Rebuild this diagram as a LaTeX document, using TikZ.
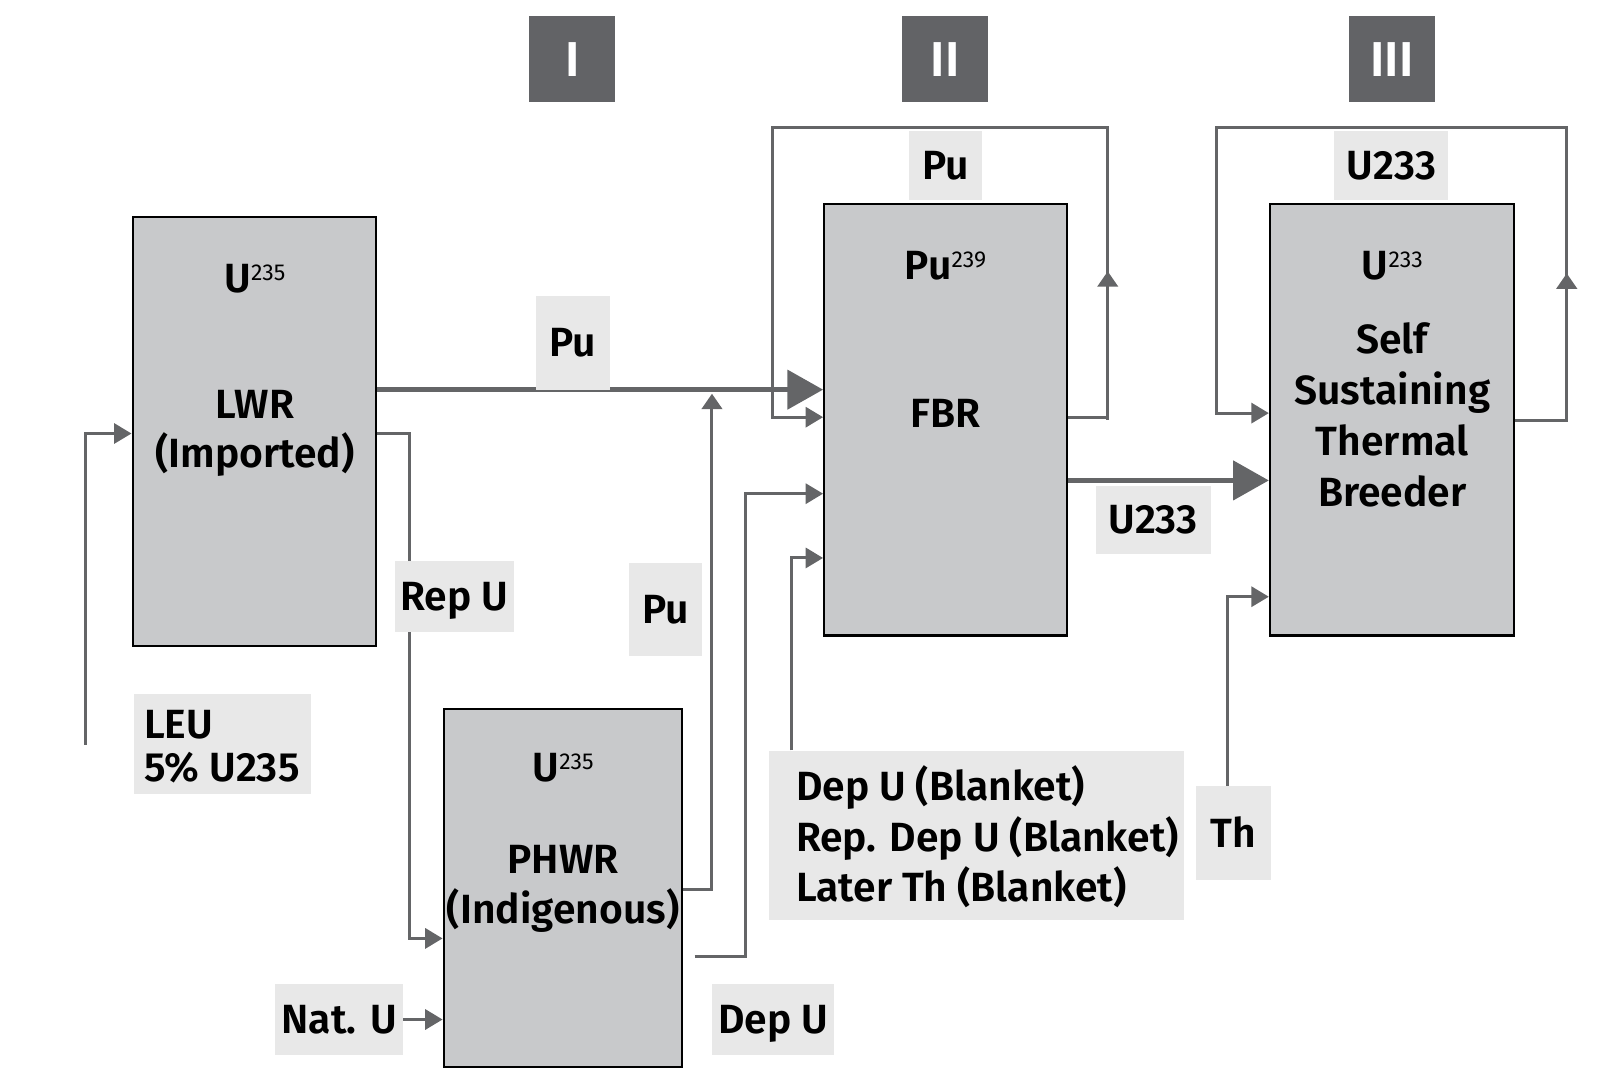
\documentclass[tikz,border=0pt]{standalone}
\usepackage{fontspec}
\setmainfont{Fira Sans}[BoldFont={Fira Sans SemiBold}]
\usetikzlibrary{fit,arrows.meta}
\definecolor{boxfill}{HTML}{C8C9CB}
\definecolor{labfill}{HTML}{E8E8E8}
\definecolor{wirec}{HTML}{646567}
\definecolor{hdrc}{HTML}{626366}
\newcommand\supnum[1]{\raisebox{6pt}{\fontsize{11.5}{11.5}\selectfont\mdseries #1}}
\pgfdeclarelayer{bg}
\pgfsetlayers{bg,main}
\tikzset{
  txt/.style={inner sep=0pt, font=\fontsize{20.4}{24}\selectfont\bfseries, text height=14pt, text depth=0pt},
  reactor/.style={draw=black, line width=1.1pt, fill=boxfill, inner sep=0pt},
  labbg/.style={fill=labfill, inner sep=0pt},
  lab/.style={txt, fill=labfill},
  hdr/.style={fill=hdrc, inner sep=0pt, text=white, font=\fontsize{24.5}{24}\selectfont\bfseries, text height=16.9pt, text depth=0pt, minimum width=42.8pt, minimum height=42.8pt},
  wire/.style={draw=wirec, line width=1.5pt},
  thickwire/.style={draw=wirec, line width=2.4pt},
  sarr/.style={-{Triangle[length=8.7pt,width=10pt]}},
  uarr/.style={-{Triangle[length=7.7pt,width=10.2pt]}},
  barr/.style={-{Triangle[length=17.8pt,width=19.4pt]}},
}
\begin{document}
\begin{tikzpicture}[x=0.51pt,y=-0.51pt]
\useasboundingbox (0,0) rectangle (1568.6,1060.8);

% stage headers
\node[hdr] (h1) at (561,58) {I};
\node[hdr] (h2) at (926.5,58) {II};
\node[hdr] (h3) at (1364.5,58) {III};

% reactor boxes
\node[reactor, fit={(130,213) (369,633)}] (lwr) {};
\node[reactor, fit={(435,695) (669,1046)}] (phwr) {};
\node[reactor, fit={(808,200) (1046,623)}] (fbr) {};
\node[reactor, fit={(1245,200) (1484,623)}] (tb) {};

% reactor texts
\node[txt] (lwrU) at (250,273) {U\supnum{235}};
\node[txt] (lwrN) at (250,397) {LWR};
\node[txt] (lwrI) at (250,445) {(Imported)};
\node[txt] (phwrU) at (552,752) {U\supnum{235}};
\node[txt] (phwrN) at (552,843) {PHWR};
\node[txt] (phwrI) at (552,892) {(Indigenous)};
\node[txt] (fbrP) at (927,260) {Pu\supnum{239}};
\node[txt] (fbrN) at (927,405) {FBR};
\node[txt] (tbU) at (1365,260) {U\supnum{233}};
\node[txt] (tb1) at (1365,333) {Self};
\node[txt] (tb2) at (1365,383) {Sustaining};
\node[txt] (tb3) at (1365,433) {Thermal};
\node[txt] (tb4) at (1365,483) {Breeder};

% labels
\node[lab, minimum width=37.2pt, minimum height=46.9pt] (puMid) at (561.5,336) {Pu};
\node[lab, minimum width=59.7pt, minimum height=35.7pt] (repU) at (445.5,585) {Rep U};
\node[lab, minimum width=36.2pt, minimum height=46.4pt] (puLow) at (652.5,597.5) {Pu};
\node[labbg, fit={(131,680) (305,778)}] (leubg) {};
\node[txt, anchor=west] (leu1) at (141,710) {LEU};
\node[txt, anchor=west] (leu2) at (141,752) {5\% U235};
\node[lab, minimum width=63.8pt, minimum height=35.2pt] (natU) at (332.5,999.5) {Nat. U};
\node[lab, minimum width=61.2pt, minimum height=35.2pt] (depU) at (758,999.5) {Dep U};
\node[labbg, fit={(754,736) (1161,902)}] (blkbg) {};
\node[txt, anchor=west] (blk1) at (780,771) {Dep U (Blanket)};
\node[txt, anchor=west] (blk2) at (780,821) {Rep. Dep U (Blanket)};
\node[txt, anchor=west] (blk3) at (780,870) {Later Th (Blanket)};
\node[lab, minimum width=37.7pt, minimum height=46.9pt] (th) at (1209,817) {Th};
\node[lab, minimum width=36.7pt, minimum height=34.7pt] (puTop) at (927,162) {Pu};
\node[lab, minimum width=57.1pt, minimum height=34.7pt] (uTop) at (1364,162) {U233};
\node[lab, minimum width=57.6pt, minimum height=34.2pt] (uMid) at (1130.5,509.5) {U233};

% helper coordinates
\coordinate (leuEnd) at (84,730);
\coordinate (ru) at (401,700);
\coordinate (pp) at (698,386);
\coordinate (du0) at (681,938);
\coordinate (du1) at (731,700);
\coordinate (bl) at (776,0);
\coordinate (fl1) at (1086,125);
\coordinate (fl2) at (757,200);
\coordinate (fup) at (1086,266);
\coordinate (tl1) at (1536,125);
\coordinate (tl2) at (1193,200);
\coordinate (tup) at (1536,268);
\coordinate (tv) at (1203,0);

\begin{pgfonlayer}{bg}
\draw[wire, sarr] (leuEnd) |- (lwr.west |- 0,425);
\draw[thickwire, barr] (lwr.east |- 0,382) -- (fbr.west |- 0,382);
\draw[wire, sarr] (lwr.east |- 0,425) -| (ru) |- (phwr.west |- 0,920);
\draw[wire, uarr] (phwr.east |- 0,872) -| (pp);
\draw[wire, sarr] (du0) -| (du1) |- (fbr.west |- 0,484);
\draw[wire, sarr] (blkbg.north -| bl) |- (fbr.west |- 0,547);
\draw[wire, sarr] (fbr.east |- 0,409) -| (fl1) -| (fl2) |- (fbr.west |- 0,409);
\draw[wire, uarr] (fbr.east -| fl1) -- (fup);
\draw[thickwire, barr] (fbr.east |- 0,471) -- (tb.west |- 0,471);
\draw[wire, sarr] (tb.east |- 0,412) -| (tl1) -| (tl2) |- (tb.west |- 0,405);
\draw[wire, uarr] (tb.east -| tl1) -- (tup);
\draw[wire, sarr] (th.north -| tv) |- (tb.west |- 0,585);
\draw[wire, sarr] (natU.east) -- (phwr.west |- natU.east);
\end{pgfonlayer}
\end{tikzpicture}
\end{document}
